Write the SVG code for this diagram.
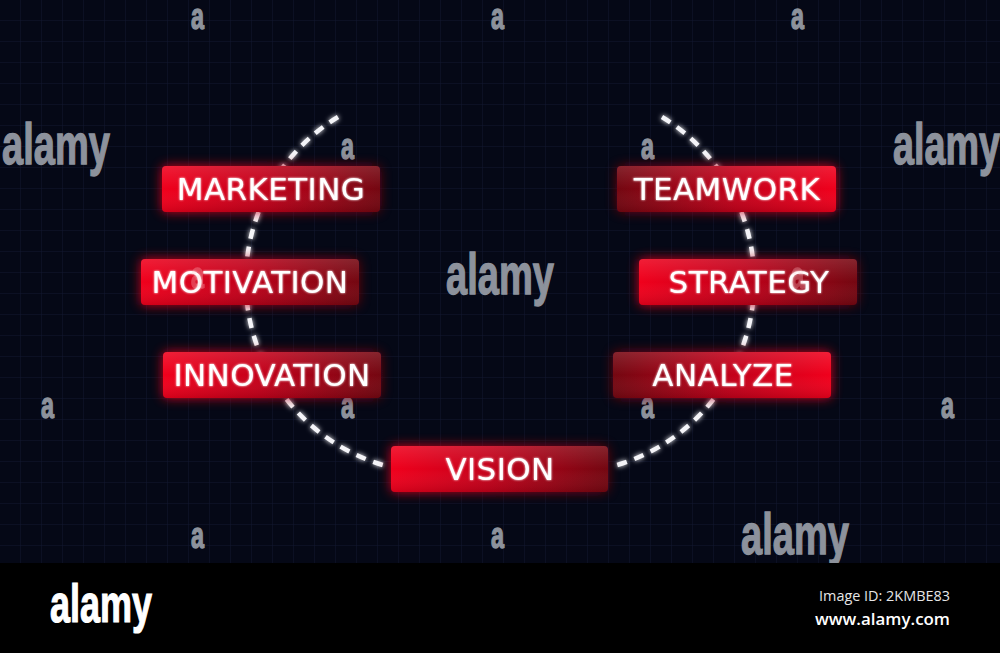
<svg xmlns="http://www.w3.org/2000/svg" width="1000" height="653" viewBox="0 0 1000 653">
<defs>
<pattern id="grid" width="21" height="21" patternUnits="userSpaceOnUse">
<path d="M21 0V21M0 21H21" fill="none" stroke="#121830" stroke-width="1"/>
</pattern>
<linearGradient id="gL" x1="0" y1="0" x2="1" y2="0">
<stop offset="0" stop-color="#f0001c"/>
<stop offset="0.45" stop-color="#c4001a"/>
<stop offset="1" stop-color="#740711"/>
</linearGradient>
<linearGradient id="gR" x1="1" y1="0" x2="0" y2="0">
<stop offset="0" stop-color="#f0001c"/>
<stop offset="0.45" stop-color="#c4001a"/>
<stop offset="1" stop-color="#740711"/>
</linearGradient>
<linearGradient id="hi" x1="0" y1="0" x2="0" y2="1">
<stop offset="0" stop-color="#ffffff" stop-opacity="0.12"/>
<stop offset="0.5" stop-color="#ffffff" stop-opacity="0"/>
<stop offset="1" stop-color="#000000" stop-opacity="0.12"/>
</linearGradient>
<filter id="glow" x="-20%" y="-60%" width="140%" height="220%">
<feGaussianBlur stdDeviation="6"/>
</filter>
<filter id="dashglow" x="-10%" y="-10%" width="120%" height="120%">
<feGaussianBlur in="SourceGraphic" stdDeviation="2.5" result="b"/>
<feMerge><feMergeNode in="b"/><feMergeNode in="SourceGraphic"/></feMerge>
</filter>
<filter id="tglow" x="-10%" y="-30%" width="120%" height="160%">
<feGaussianBlur in="SourceGraphic" stdDeviation="1" result="b"/>
<feMerge><feMergeNode in="b"/><feMergeNode in="SourceGraphic"/></feMerge>
</filter>
</defs>
<style>
.lbl{font-family:"DejaVu Sans","Noto Sans",sans-serif;font-size:31px;fill:#ffffff;text-anchor:middle;letter-spacing:0.4px}
.wm{font-family:"Liberation Sans",Arial,sans-serif;font-weight:bold;fill:#8d929c;stroke:#8d929c;stroke-width:1.4}
.big{font-size:58px}
.sm{font-size:36px}
.dash{fill:none;stroke:#f4f4f8;stroke-width:4.5;stroke-dasharray:10 8}
.box{stroke:none}
</style>
<rect width="1000" height="653" fill="#050816"/>
<rect width="1000" height="563" fill="url(#grid)"/>

<g id="watermarks">
<text class="wm sm" x="191" y="29" textLength="13" lengthAdjust="spacingAndGlyphs">a</text>
<text class="wm sm" x="491" y="29" textLength="13" lengthAdjust="spacingAndGlyphs">a</text>
<text class="wm sm" x="791" y="29" textLength="13" lengthAdjust="spacingAndGlyphs">a</text>
<text class="wm sm" x="341" y="159" textLength="13" lengthAdjust="spacingAndGlyphs">a</text>
<text class="wm sm" x="641" y="159" textLength="13" lengthAdjust="spacingAndGlyphs">a</text>
<text class="wm sm" x="41" y="418" textLength="13" lengthAdjust="spacingAndGlyphs">a</text>
<text class="wm sm" x="341" y="418" textLength="13" lengthAdjust="spacingAndGlyphs">a</text>
<text class="wm sm" x="641" y="418" textLength="13" lengthAdjust="spacingAndGlyphs">a</text>
<text class="wm sm" x="941" y="418" textLength="13" lengthAdjust="spacingAndGlyphs">a</text>
<text class="wm sm" x="191" y="548" textLength="13" lengthAdjust="spacingAndGlyphs">a</text>
<text class="wm sm" x="491" y="548" textLength="13" lengthAdjust="spacingAndGlyphs">a</text>
<text class="wm big" x="2" y="164" textLength="108" lengthAdjust="spacingAndGlyphs">alamy</text>
<text class="wm big" x="893" y="164" textLength="107" lengthAdjust="spacingAndGlyphs">alamy</text>
<text class="wm big" x="446" y="294" textLength="108" lengthAdjust="spacingAndGlyphs">alamy</text>
<text class="wm big" x="741" y="554" textLength="108" lengthAdjust="spacingAndGlyphs">alamy</text>
</g>

<g id="connectors" filter="url(#dashglow)">
<path class="dash" d="M338 117 A192 192 0 0 0 390 467"/>
<path class="dash" d="M662 117 A192 192 0 0 1 610 467"/>
</g>

<g id="marketing">
<rect x="162" y="166" width="218" height="46" rx="4" fill="url(#gL)" filter="url(#glow)" opacity="0.9"/>
<rect class="box" x="162" y="166" width="218" height="46" rx="4" fill="url(#gL)"/>
<rect x="162" y="166" width="218" height="46" rx="4" fill="url(#hi)"/>
<text class="lbl" x="271" y="200" filter="url(#tglow)">MARKETING</text>
</g>
<g id="teamwork">
<rect x="617" y="166" width="219" height="46" rx="4" fill="url(#gR)" filter="url(#glow)" opacity="0.9"/>
<rect class="box" x="617" y="166" width="219" height="46" rx="4" fill="url(#gR)"/>
<rect x="617" y="166" width="219" height="46" rx="4" fill="url(#hi)"/>
<text class="lbl" x="727" y="200" filter="url(#tglow)">TEAMWORK</text>
</g>
<g id="motivation">
<rect x="141" y="259" width="218" height="46" rx="4" fill="url(#gL)" filter="url(#glow)" opacity="0.9"/>
<rect class="box" x="141" y="259" width="218" height="46" rx="4" fill="url(#gL)"/>
<rect x="141" y="259" width="218" height="46" rx="4" fill="url(#hi)"/>
<text class="lbl" x="250" y="293" filter="url(#tglow)">MOTIVATION</text>
</g>
<g id="strategy">
<rect x="639" y="259" width="218" height="46" rx="4" fill="url(#gL)" filter="url(#glow)" opacity="0.9"/>
<rect class="box" x="639" y="259" width="218" height="46" rx="4" fill="url(#gL)"/>
<rect x="639" y="259" width="218" height="46" rx="4" fill="url(#hi)"/>
<text class="lbl" x="749" y="293" filter="url(#tglow)">STRATEGY</text>
</g>
<g id="innovation">
<rect x="163" y="352" width="218" height="46" rx="4" fill="url(#gL)" filter="url(#glow)" opacity="0.9"/>
<rect class="box" x="163" y="352" width="218" height="46" rx="4" fill="url(#gL)"/>
<rect x="163" y="352" width="218" height="46" rx="4" fill="url(#hi)"/>
<text class="lbl" x="272" y="386" filter="url(#tglow)">INNOVATION</text>
</g>
<g id="analyze">
<rect x="613" y="352" width="218" height="46" rx="4" fill="url(#gR)" filter="url(#glow)" opacity="0.9"/>
<rect class="box" x="613" y="352" width="218" height="46" rx="4" fill="url(#gR)"/>
<rect x="613" y="352" width="218" height="46" rx="4" fill="url(#hi)"/>
<text class="lbl" x="723" y="386" filter="url(#tglow)">ANALYZE</text>
</g>
<g id="vision">
<rect x="391" y="446" width="217" height="46" rx="4" fill="url(#gL)" filter="url(#glow)" opacity="0.9"/>
<rect class="box" x="391" y="446" width="217" height="46" rx="4" fill="url(#gL)"/>
<rect x="391" y="446" width="217" height="46" rx="4" fill="url(#hi)"/>
<text class="lbl" x="500" y="480" filter="url(#tglow)">VISION</text>
</g>

<g id="overlay-watermarks" opacity="0.3">
<text class="wm sm" x="191" y="288" textLength="13" lengthAdjust="spacingAndGlyphs" style="fill:#ffc8cc;stroke:#ffc8cc">a</text>
<text class="wm sm" x="791" y="288" textLength="13" lengthAdjust="spacingAndGlyphs" style="fill:#ffc8cc;stroke:#ffc8cc">a</text>
</g>

<g id="footer">
<rect x="0" y="563" width="1000" height="90" fill="#000000"/>
<text x="50" y="622" font-family="Liberation Sans, Arial, sans-serif" font-weight="bold" font-size="54" fill="#ffffff" stroke="#ffffff" stroke-width="1.2" textLength="102" lengthAdjust="spacingAndGlyphs">alamy</text>
<text x="950" y="601" font-family="Open Sans, Noto Sans, sans-serif" font-size="14" fill="#e6e6e6" text-anchor="end" textLength="131" lengthAdjust="spacingAndGlyphs">Image ID: 2KMBE83</text>
<text x="950" y="625" font-family="Open Sans, Noto Sans, sans-serif" font-weight="600" font-size="16" fill="#ffffff" text-anchor="end" textLength="135" lengthAdjust="spacingAndGlyphs">www.alamy.com</text>
</g>
</svg>
